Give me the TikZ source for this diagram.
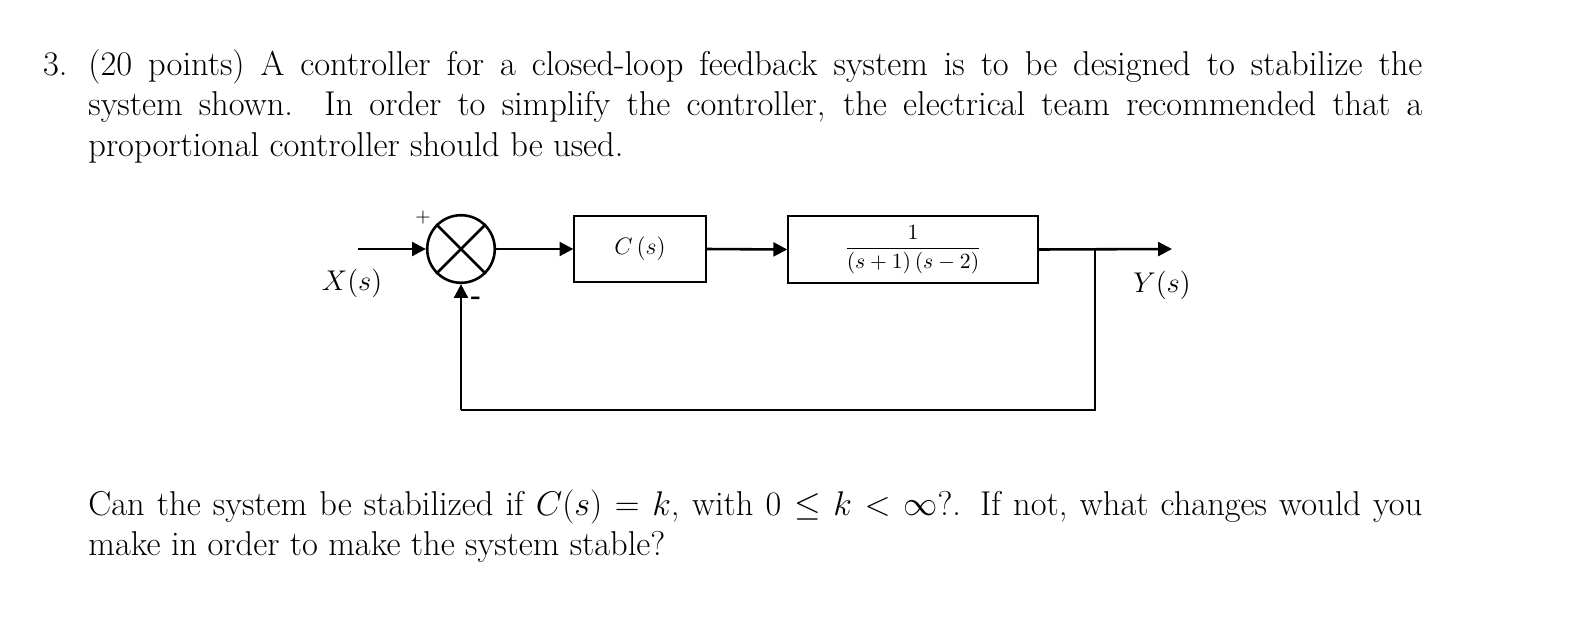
\documentclass[tikz,border=0pt]{standalone}
\usepackage{amsmath,amssymb}
\usetikzlibrary{arrows.meta}
\begin{document}
\begin{tikzpicture}[x=0.503bp,y=-0.503bp,
  blk/.style={draw,line width=1pt,inner sep=0pt},
  wire/.style={line width=1.3pt},
  arr/.style={wire,-{Triangle[length=7pt,width=7pt]}},
  txt/.style={inner sep=0pt,align=justify,text width=671bp,font=\fontsize{17.4}{20.4}\selectfont}]
\useasboundingbox (0,0) rectangle (1578,627);
\node[txt,anchor=north west] (q) at (88,49) {\llap{3.\ \ }(20 points) A controller for a closed-loop feedback system is to be designed to stabilize the\linebreak{} system shown. In order to simplify the controller, the electrical team recommended that a\linebreak{} proportional controller should be used.};
\node[txt,anchor=north west] (q2) at (88,489) {Can the system be stabilized if $C(s)=k$, with $0\le k<\infty$?. If not, what changes would you make in order to make the system stable?};
% diagram
\node[circle,draw,line width=1.3pt,minimum size=34bp,inner sep=0pt] (sum) at (461,249) {};
\draw[wire] (sum.north west) -- (sum.south east) (sum.north east) -- (sum.south west);
\node[blk,minimum width=66bp,minimum height=33bp] (c) at (640,249) {\fontsize{13}{15}\selectfont $C\,(s)$};
\node[blk,minimum width=125.5bp,minimum height=33.5bp] (g) at (913,249.5) {\fontsize{11}{13}\selectfont $\dfrac{1}{(s+1)\,(s-2)}$};
\coordinate (xin) at (358,249);
\coordinate (yout) at (1172,249);
\coordinate (br) at (1095,249);
\coordinate (b1) at (1095,410);
\coordinate (b2) at (461,410);
\draw[arr] (xin) -- (sum.west);
\draw[arr] (sum.east) -- (c.west);
\draw[arr] (c.east) -- (g.west);
\draw[arr] (g.east) -- (yout);
\draw[wire] (br) -- (b1) -- (b2);
\draw[arr] (b2) -- (sum.south);
\node[font=\fontsize{15.5}{18}\selectfont] (xl) at (352,283) {$X(s)$};
\node[font=\fontsize{15.5}{18}\selectfont] (yl) at (1162,285) {$Y(s)$};
\node[font=\fontsize{10}{12}\selectfont] (pl) at (423,218) {$+$};
\node[font=\bfseries\fontsize{14}{16}\selectfont] (mi) at (476,301) {-};
\end{tikzpicture}
\end{document}
